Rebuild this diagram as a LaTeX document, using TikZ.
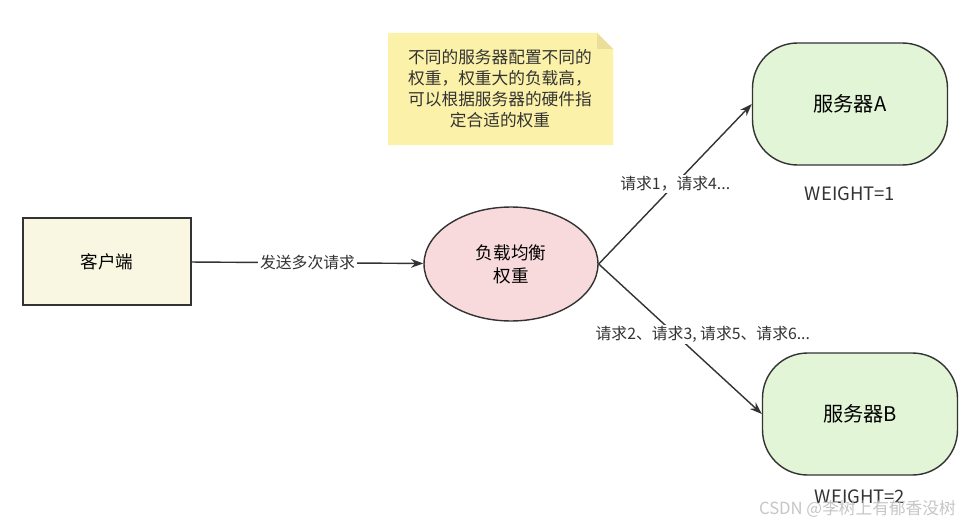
\documentclass[tikz,border=0pt]{standalone}
\usepackage{fontspec}
\setmainfont{Noto Sans CJK SC}
\usetikzlibrary{positioning,shapes.geometric,arrows.meta}

\definecolor{clientfill}{HTML}{F9F7E1}
\definecolor{lbfill}{HTML}{F8DADC}
\definecolor{serverfill}{HTML}{E2F5D6}
\definecolor{notefill}{HTML}{FCF1A8}
\definecolor{linegray}{HTML}{333333}

\tikzset{
  client/.style={draw=linegray, thick, fill=clientfill, minimum width=3.36cm, minimum height=1.74cm, font=\fontsize{10}{12}\selectfont},
  balancer/.style={ellipse, draw=linegray, thick, fill=lbfill, minimum width=3.48cm, minimum height=2.28cm, align=center, font=\fontsize{10}{13}\selectfont},
  server/.style={draw=linegray, thick, fill=serverfill, rounded corners=0.9cm, minimum width=3.9cm, minimum height=2.44cm, font=\fontsize{11.5}{13}\selectfont},
  weight/.style={font=\fontsize{10.5}{12}\selectfont, text=linegray},
  reqlabel/.style={fill=white, inner sep=1pt, font=\fontsize{9}{11}\selectfont, text=linegray},
  link/.style={-{Stealth[length=7pt,width=5pt]}, thick, draw=linegray}
}

\begin{document}
\begin{tikzpicture}[x=0.02cm, y=-0.02cm]
  \path[use as bounding box, fill=white] (0,0) rectangle (970,527);

  % Note with folded corner
  \fill[notefill] (388,33) -- (597,33) -- (613,49) -- (613,145) -- (388,145) -- cycle;
  \fill[notefill!70!black!25!notefill] (597,33) -- (597,49) -- (613,49) -- cycle;
  \node[align=center, font=\fontsize{9.5}{12}\selectfont, text=linegray] (note) at (500,89)
    {不同的服务器配置不同的\\权重，权重大的负载高，\\可以根据服务器的硬件指\\定合适的权重};

  % Nodes
  \node[client] (client) at (107,261.5) {客户端};
  \node[balancer] (lb) at (511,264) {负载均衡\\权重};
  \node[server] (srvA) at (850,104) {服务器A};
  \node[server] (srvB) at (860,414) {服务器B};
  \node[weight] (wA) at (850,194) {WEIGHT=1};
  \node[weight] (wB) at (860,497) {WEIGHT=2};

  % Connectors
  \draw[link] (client) -- node[reqlabel] {发送多次请求} (lb);
  \draw[link] (lb.east) -- node[reqlabel, pos=0.5] {请求1，请求4...} (srvA.west);
  \draw[link] (lb.east) -- node[reqlabel, pos=0.47, xshift=0.55cm] {请求2、请求3, 请求5、请求6...} (srvB.west);

  % Watermark
  \node[text=gray!45, font=\fontsize{9.5}{11}\selectfont, anchor=east] (mark) at (962,509) {CSDN @李树上有郁香没树};
\end{tikzpicture}
\end{document}
